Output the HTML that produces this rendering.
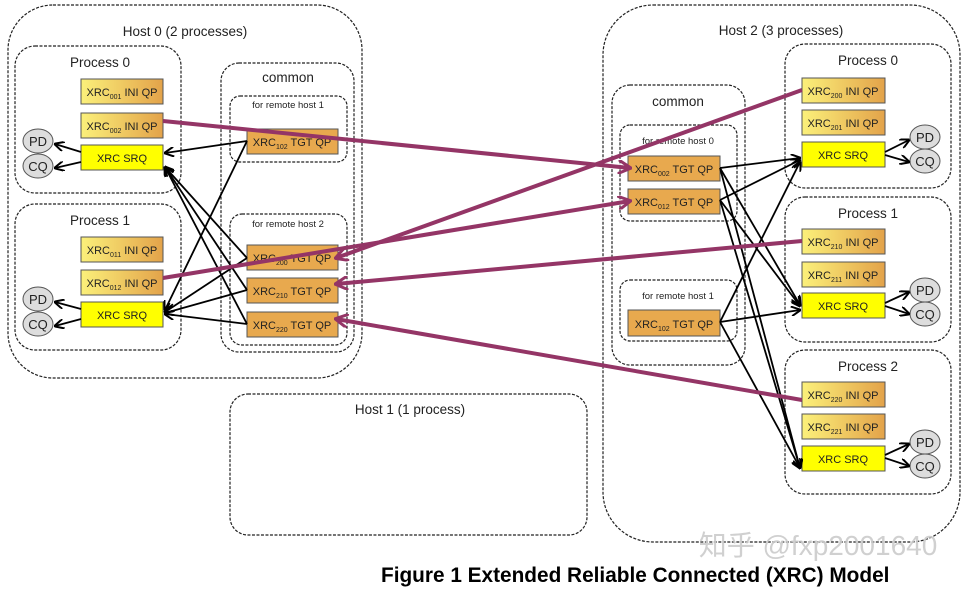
<!DOCTYPE html>
<html><head><meta charset="utf-8"><style>
html,body{margin:0;padding:0;background:#fff;width:966px;height:589px;overflow:hidden}
svg{display:block;font-family:"Liberation Sans",Arial,sans-serif}
</style></head><body>
<svg width="966" height="589" viewBox="0 0 966 589" xmlns="http://www.w3.org/2000/svg">
<defs>
<linearGradient id="ini" x1="0" x2="1" y1="0" y2="0"><stop offset="0" stop-color="#fbf07a"/><stop offset="1" stop-color="#e3a34a"/></linearGradient>
<marker id="ab" markerWidth="10" markerHeight="10" refX="9" refY="5" orient="auto" markerUnits="userSpaceOnUse"><path d="M0,0 L10,5 L0,10" fill="none" stroke="#000" stroke-width="2"/></marker>
<marker id="ap" markerWidth="14" markerHeight="14" refX="12" refY="7" orient="auto" markerUnits="userSpaceOnUse"><path d="M0,0 L13,7 L0,14" fill="none" stroke="#943566" stroke-width="3"/></marker>
</defs>
<g fill="none" stroke="#222" stroke-width="1.2" stroke-dasharray="3,1.5">
<rect x="8" y="5" width="354" height="373" rx="45"/>
<rect x="15" y="46" width="166" height="147" rx="20"/>
<rect x="15" y="204" width="166" height="146" rx="20"/>
<rect x="221" y="63" width="133" height="289" rx="18"/>
<rect x="230" y="96" width="117" height="66" rx="10"/>
<rect x="230" y="214" width="117" height="131" rx="12"/>
<rect x="603" y="5" width="357" height="537" rx="50"/>
<rect x="785" y="44" width="166" height="144" rx="20"/>
<rect x="785" y="197" width="166" height="145" rx="20"/>
<rect x="785" y="350" width="166" height="144" rx="20"/>
<rect x="612" y="85" width="133" height="280" rx="18"/>
<rect x="620" y="125" width="117" height="96" rx="10"/>
<rect x="620" y="280" width="117" height="61" rx="10"/>
<rect x="230" y="394" width="357" height="141" rx="18"/>
</g>
<g font-size="13.5" fill="#222" text-anchor="middle">
<text x="185" y="36">Host 0 (2 processes)</text>
<text x="100" y="67">Process 0</text>
<text x="100" y="225">Process 1</text>
<text x="288" y="82">common</text>
<text x="781" y="35">Host 2 (3 processes)</text>
<text x="868" y="65">Process 0</text>
<text x="868" y="218">Process 1</text>
<text x="868" y="371">Process 2</text>
<text x="678" y="106">common</text>
<text x="410" y="414">Host 1 (1 process)</text>
</g>
<g font-size="9.5" fill="#222" text-anchor="middle">
<text x="288" y="108">for remote host 1</text>
<text x="288" y="227">for remote host 2</text>
<text x="678" y="144">for remote host 0</text>
<text x="678" y="299">for remote host 1</text>
</g>
<g stroke="#555" stroke-width="1">
<rect x="81" y="79" width="82" height="25" fill="url(#ini)"/>
<rect x="81" y="113" width="82" height="25" fill="url(#ini)"/>
<rect x="81" y="145" width="82" height="25" fill="#ffff00"/>
<rect x="81" y="237" width="82" height="25" fill="url(#ini)"/>
<rect x="81" y="270" width="82" height="25" fill="url(#ini)"/>
<rect x="81" y="302" width="82" height="25" fill="#ffff00"/>
<rect x="247" y="129" width="91" height="25" fill="#e8a94e"/>
<rect x="247" y="245" width="91" height="25" fill="#e8a94e"/>
<rect x="247" y="278" width="91" height="25" fill="#e8a94e"/>
<rect x="247" y="312" width="91" height="25" fill="#e8a94e"/>
<rect x="628" y="156" width="92" height="25" fill="#e8a94e"/>
<rect x="628" y="189" width="92" height="25" fill="#e8a94e"/>
<rect x="628" y="310" width="92" height="26" fill="#e8a94e"/>
<rect x="802" y="78" width="83" height="25" fill="url(#ini)"/>
<rect x="802" y="110" width="83" height="25" fill="url(#ini)"/>
<rect x="802" y="142" width="83" height="25" fill="#ffff00"/>
<rect x="802" y="229" width="83" height="25" fill="url(#ini)"/>
<rect x="802" y="262" width="83" height="25" fill="url(#ini)"/>
<rect x="802" y="293" width="83" height="25" fill="#ffff00"/>
<rect x="802" y="382" width="83" height="25" fill="url(#ini)"/>
<rect x="802" y="414" width="83" height="25" fill="url(#ini)"/>
<rect x="802" y="446" width="83" height="25" fill="#ffff00"/>
<ellipse cx="38" cy="141" rx="15" ry="12" fill="#ddd"/>
<ellipse cx="38" cy="166" rx="15" ry="12" fill="#ddd"/>
<ellipse cx="38" cy="299" rx="15" ry="12" fill="#ddd"/>
<ellipse cx="38" cy="324" rx="15" ry="12" fill="#ddd"/>
<ellipse cx="925" cy="137" rx="15" ry="12" fill="#ddd"/>
<ellipse cx="925" cy="161" rx="15" ry="12" fill="#ddd"/>
<ellipse cx="925" cy="290" rx="15" ry="12" fill="#ddd"/>
<ellipse cx="925" cy="314" rx="15" ry="12" fill="#ddd"/>
<ellipse cx="925" cy="442" rx="15" ry="12" fill="#ddd"/>
<ellipse cx="925" cy="466" rx="15" ry="12" fill="#ddd"/>
</g>
<g font-size="13" fill="#222" text-anchor="middle">
<text x="38" y="146">PD</text><text x="38" y="171">CQ</text>
<text x="38" y="304">PD</text><text x="38" y="329">CQ</text>
<text x="925" y="142">PD</text><text x="925" y="166">CQ</text>
<text x="925" y="295">PD</text><text x="925" y="319">CQ</text>
<text x="925" y="447">PD</text><text x="925" y="471">CQ</text>
</g>
<g font-size="11" fill="#222" text-anchor="middle">
<text x="122" y="96">XRC<tspan font-size="7" dy="3">001</tspan><tspan dy="-3"> INI QP</tspan></text>
<text x="122" y="130">XRC<tspan font-size="7" dy="3">002</tspan><tspan dy="-3"> INI QP</tspan></text>
<text x="122" y="162">XRC SRQ</text>
<text x="122" y="254">XRC<tspan font-size="7" dy="3">011</tspan><tspan dy="-3"> INI QP</tspan></text>
<text x="122" y="287">XRC<tspan font-size="7" dy="3">012</tspan><tspan dy="-3"> INI QP</tspan></text>
<text x="122" y="319">XRC SRQ</text>
<text x="292" y="146">XRC<tspan font-size="7" dy="3">102</tspan><tspan dy="-3"> TGT QP</tspan></text>
<text x="292" y="262">XRC<tspan font-size="7" dy="3">200</tspan><tspan dy="-3"> TGT QP</tspan></text>
<text x="292" y="295">XRC<tspan font-size="7" dy="3">210</tspan><tspan dy="-3"> TGT QP</tspan></text>
<text x="292" y="329">XRC<tspan font-size="7" dy="3">220</tspan><tspan dy="-3"> TGT QP</tspan></text>
<text x="674" y="173">XRC<tspan font-size="7" dy="3">002</tspan><tspan dy="-3"> TGT QP</tspan></text>
<text x="674" y="206">XRC<tspan font-size="7" dy="3">012</tspan><tspan dy="-3"> TGT QP</tspan></text>
<text x="674" y="328">XRC<tspan font-size="7" dy="3">102</tspan><tspan dy="-3"> TGT QP</tspan></text>
<text x="843" y="95">XRC<tspan font-size="7" dy="3">200</tspan><tspan dy="-3"> INI QP</tspan></text>
<text x="843" y="127">XRC<tspan font-size="7" dy="3">201</tspan><tspan dy="-3"> INI QP</tspan></text>
<text x="843" y="159">XRC SRQ</text>
<text x="843" y="246">XRC<tspan font-size="7" dy="3">210</tspan><tspan dy="-3"> INI QP</tspan></text>
<text x="843" y="279">XRC<tspan font-size="7" dy="3">211</tspan><tspan dy="-3"> INI QP</tspan></text>
<text x="843" y="310">XRC SRQ</text>
<text x="843" y="399">XRC<tspan font-size="7" dy="3">220</tspan><tspan dy="-3"> INI QP</tspan></text>
<text x="843" y="431">XRC<tspan font-size="7" dy="3">221</tspan><tspan dy="-3"> INI QP</tspan></text>
<text x="843" y="463">XRC SRQ</text>
</g>
<g stroke="#000" stroke-width="1.8" fill="none" marker-end="url(#ab)">
<line x1="81" y1="152" x2="55" y2="144"/><line x1="81" y1="162" x2="55" y2="168"/>
<line x1="81" y1="309" x2="55" y2="302"/><line x1="81" y1="319" x2="55" y2="326"/>
<line x1="885" y1="152" x2="909" y2="140"/><line x1="885" y1="155" x2="909" y2="162"/>
<line x1="885" y1="303" x2="909" y2="292"/><line x1="885" y1="306" x2="909" y2="314"/>
<line x1="885" y1="455" x2="909" y2="444"/><line x1="885" y1="458" x2="909" y2="466"/>
<line x1="247" y1="141" x2="165" y2="153"/><line x1="247" y1="141" x2="165" y2="310"/>
<line x1="247" y1="258" x2="165" y2="167"/><line x1="247" y1="258" x2="165" y2="312"/>
<line x1="247" y1="290" x2="165" y2="167"/><line x1="247" y1="290" x2="165" y2="313"/>
<line x1="247" y1="324" x2="165" y2="167"/><line x1="247" y1="324" x2="165" y2="314"/>
<line x1="720" y1="168" x2="800" y2="158"/><line x1="720" y1="168" x2="800" y2="305"/><line x1="720" y1="168" x2="800" y2="468"/>
<line x1="720" y1="200" x2="800" y2="160"/><line x1="720" y1="200" x2="800" y2="306"/><line x1="720" y1="200" x2="800" y2="468"/>
<line x1="720" y1="322" x2="800" y2="162"/><line x1="720" y1="322" x2="800" y2="310"/><line x1="720" y1="322" x2="800" y2="468"/>
</g>
<g stroke="#943566" stroke-width="4" fill="none" marker-end="url(#ap)">
<line x1="163" y1="121" x2="630" y2="168"/>
<line x1="163" y1="278" x2="630" y2="201"/>
<line x1="802" y1="90" x2="336" y2="258"/>
<line x1="802" y1="241" x2="336" y2="284"/>
<line x1="802" y1="400" x2="336" y2="319"/>
</g>
<text x="818" y="555" font-family="'Liberation Sans','Noto Sans CJK SC',sans-serif" font-size="28" fill="#ccc" text-anchor="middle" opacity="0.9">知乎 @fxp2001640</text>
<text x="381" y="582" font-size="20.8" font-weight="bold" fill="#000">Figure 1  Extended Reliable Connected (XRC) Model</text>
</svg>
</body></html>
